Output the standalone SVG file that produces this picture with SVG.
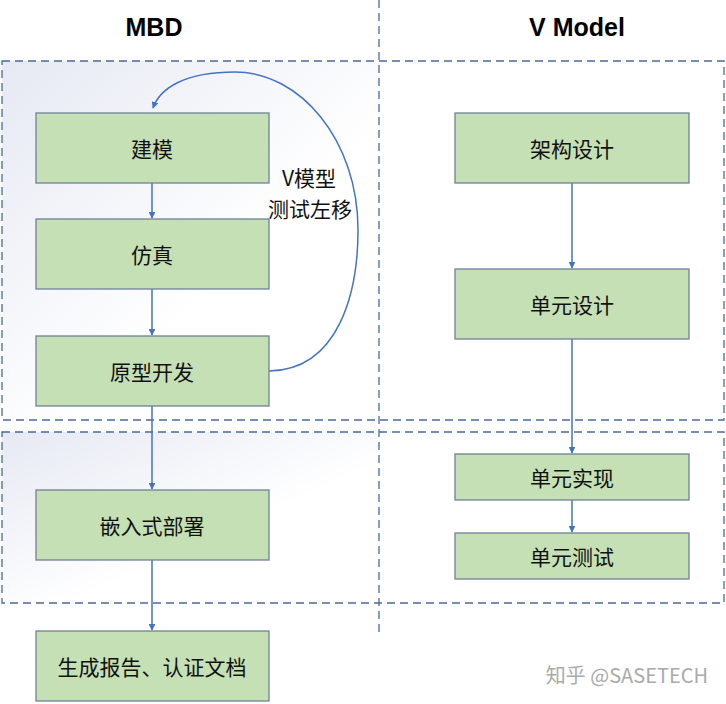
<svg xmlns="http://www.w3.org/2000/svg" width="726" height="704" viewBox="0 0 726 704">
<style>
.n{fill:#c5e0b4;stroke:#6f8295;stroke-width:1.3}
.t{font-family:"Noto Sans CJK SC","Liberation Sans",sans-serif;font-size:21px;fill:#111;text-anchor:middle;dominant-baseline:central}
.h{font-family:"Liberation Sans",sans-serif;font-size:25px;font-weight:bold;fill:#000;text-anchor:middle}
.d{fill:none;stroke:#4a6a9a;stroke-width:1.3;stroke-dasharray:8 5}
.c{fill:none;stroke:#4472c4;stroke-width:1.5}
</style>
<defs>
<marker id="a" viewBox="0 0 10 10" refX="9" refY="5" markerWidth="4.5" markerHeight="4.5" orient="auto"><path d="M0,0L10,5L0,10z" fill="#4472c4"/></marker>
<linearGradient id="g" x1="0" y1="0" x2="1" y2="1"><stop offset="0" stop-color="#e6e9f3"/><stop offset="0.6" stop-color="#ffffff"/></linearGradient>
</defs>
<rect width="726" height="704" fill="#fff"/>
<rect x="2" y="61" width="377" height="359" fill="url(#g)"/>
<rect x="2" y="432" width="377" height="171" fill="url(#g)"/>
<g id="frames">
<rect class="d" x="2" y="61" width="722" height="359"/>
<rect class="d" x="2" y="432" width="722" height="171"/>
<line class="d" x1="379" y1="0" x2="379" y2="635"/>
</g>
<text class="h" x="154" y="36">MBD</text>
<text class="h" x="577" y="36">V Model</text>
<g id="connectors">
<line class="c" x1="152" y1="183" x2="152" y2="218" marker-end="url(#a)"/>
<line class="c" x1="152" y1="289" x2="152" y2="335" marker-end="url(#a)"/>
<line class="c" x1="152" y1="406" x2="152" y2="489" marker-end="url(#a)"/>
<line class="c" x1="152" y1="560" x2="152" y2="630" marker-end="url(#a)"/>
<line class="c" x1="572" y1="183" x2="572" y2="268" marker-end="url(#a)"/>
<line class="c" x1="572" y1="339" x2="572" y2="453" marker-end="url(#a)"/>
<line class="c" x1="572" y1="500" x2="572" y2="532" marker-end="url(#a)"/>
<path class="c" d="M269,371 C340,370 358,290 358,230 C358,140 300,72 235,72 C185,72 160,88 153,108" marker-end="url(#a)"/>
<text class="t" x="309" y="177">V模型</text>
<text class="t" x="310" y="208">测试左移</text>
</g>
<g id="n1"><rect class="n" x="36" y="113" width="233" height="70"/><text class="t" x="152" y="148">建模</text></g>
<g id="n2"><rect class="n" x="36" y="219" width="233" height="70"/><text class="t" x="152" y="254">仿真</text></g>
<g id="n3"><rect class="n" x="36" y="336" width="233" height="70"/><text class="t" x="152" y="371">原型开发</text></g>
<g id="n4"><rect class="n" x="36" y="490" width="233" height="70"/><text class="t" x="152" y="525">嵌入式部署</text></g>
<g id="n5"><rect class="n" x="36" y="631" width="233" height="70"/><text class="t" x="152" y="666">生成报告、认证文档</text></g>
<g id="r1"><rect class="n" x="455" y="113" width="234" height="70"/><text class="t" x="572" y="148">架构设计</text></g>
<g id="r2"><rect class="n" x="455" y="269" width="234" height="70"/><text class="t" x="572" y="304">单元设计</text></g>
<g id="r3"><rect class="n" x="455" y="454" width="234" height="46"/><text class="t" x="572" y="477">单元实现</text></g>
<g id="r4"><rect class="n" x="455" y="533" width="234" height="46"/><text class="t" x="572" y="556">单元测试</text></g>
<text x="708" y="683" font-family="Noto Sans CJK SC,Liberation Sans,sans-serif" font-size="20" fill="#aaa" text-anchor="end">知乎 @SASETECH</text>
</svg>
